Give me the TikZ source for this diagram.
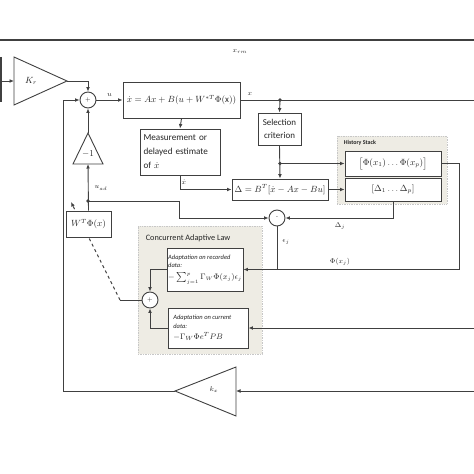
\documentclass[tikz,border=0pt]{standalone}
\usepackage{fontspec}
\setmainfont{Carlito}
\usetikzlibrary{arrows.meta}

\begin{document}
\begin{tikzpicture}[x=1bp, y=-1bp, line width=0.9bp,
  every node/.style={font=\fontsize{9}{13}\selectfont, text=black!85},
  arr/.style={-{Latex[length=4.5bp,width=3.8bp]}},
  block/.style={draw=LineGray, fill=white, inner sep=1bp},
  sumnode/.style={draw=LineGray, fill=white, circle, minimum size=16bp, inner sep=0pt, font=\fontsize{6}{6}\selectfont},
  panel/.style={draw=black!22, densely dotted, fill=PanelFill, line width=0.7bp},
  lbl/.style={font=\fontsize{7}{8}\selectfont},
  note/.style={font=\fontsize{6.5}{8.5}\selectfont\itshape}]

\colorlet{LineGray}{black!75}
\definecolor{PanelFill}{RGB}{238,236,228}

\useasboundingbox (0,0) rectangle (474,474);

% Panels
\node[panel, minimum width=110bp, minimum height=68bp] (hist) at (392,170) {};
\node[anchor=west, font=\fontsize{6}{7}\selectfont\bfseries] (histlbl) at (340,143) {History Stack};
\node[panel, minimum width=124bp, minimum height=128bp] (law) at (200,290) {};
\node[anchor=west, font=\fontsize{8.3}{9}\selectfont] (lawlbl) at (142,238) {Concurrent Adaptive Law};

% Top line
\coordinate (tl) at (0,40);
\coordinate (tr) at (474,40);
\draw[LineGray, line width=1.3bp] (tl) -- (tr);
\node[lbl] (xrm) at (240,52) {$x_{rm}$};

% Dashed adaptation arrow (behind W box)
\coordinate (dpt) at (120,300);
\coordinate (dtip) at (71,202);
\draw[LineGray, dashed, arr] (dpt) -- (dtip);

% Gains
\coordinate (lbar) at (2,81);
\draw[LineGray, line width=2.6bp] (1,57) -- (1,102);
\coordinate (kr-in) at (14,81);
\coordinate (kr-out) at (67,81);
\draw[LineGray, fill=white] (14,57) -- (14,105) -- (kr-out) -- cycle;
\node (kr) at (31,81) {$K_r$};

\coordinate (neg-top) at (88,133);
\coordinate (neg-bot) at (88,164);
\draw[LineGray, fill=white] (73,164) -- (103,164) -- (neg-top) -- cycle;
\node (neg) at (88,154) {$-1$};

\coordinate (kx-tip) at (175,391);
\coordinate (kx-in) at (236,391);
\draw[LineGray, fill=white] (236,367) -- (236,416) -- (kx-tip) -- cycle;
\node[lbl] (kx) at (214,390) {$k_x$};

% Blocks
\node[sumnode] (sum1) at (88,100) {$+$};
\node[block, minimum width=117bp, minimum height=36bp] (dyn) at (181.5,100) {$\dot{x}=Ax+B(u+W^{*T}\Phi(\mathrm{x}))$};
\node[block, minimum width=80bp, minimum height=46bp, text width=73bp, align=left,
  font=\fontsize{9.2}{14}\selectfont] (meas) at (180,152) {Measurement or\\delayed estimate\\of $\dot{x}$};
\node[block, minimum width=43bp, minimum height=32bp, align=center,
  font=\fontsize{9}{13.5}\selectfont] (sel) at (279.5,129) {Selection\\criterion};
\node[block, minimum width=96bp, minimum height=21bp] (delta) at (280,189.5) {$\Delta=B^T[\dot{x}-Ax-Bu]$};
\node[block, minimum width=96bp, minimum height=25bp] (phib) at (393,163.5) {$\bigl[\Phi(x_1)\ldots\Phi(x_p)\bigr]$};
\node[block, minimum width=96bp, minimum height=23bp] (dstk) at (393,189.5) {$[\Delta_1\ldots\Delta_p]$};
\node[sumnode] (minus) at (277,218) {-};
\node[block, minimum width=45bp, minimum height=26bp] (W) at (88.5,224) {$W^T\Phi(x)$};
\node[block, minimum width=76bp, minimum height=43bp, align=left, note] (rec) at (205,269.5)
  {Adaptation on recorded\\data:\\{\fontsize{7.8}{9}\selectfont\upshape\rule{0pt}{11bp}$-\sum_{j=1}^{p}\Gamma_W\Phi(x_j)\epsilon_j$}};
\node[block, minimum width=80bp, minimum height=40bp, align=left, note] (cur) at (208,328)
  {Adaptation on current\phantom{xxxx}\\data:\\{\fontsize{8.5}{9}\selectfont\upshape\rule{0pt}{10bp}$-\Gamma_W\Phi e^T PB$}};
\node[sumnode] (sum2) at (150,300) {$+$};

% Connectors
\coordinate (xr) at (474,100);
\coordinate (xdot) at (280,100);
\coordinate (seldot) at (280,163.5);
\coordinate (udot) at (88,201);
\coordinate (ubend) at (179,201);
\coordinate (fb) at (63,391);
\coordinate (cin) at (474,328);
\coordinate (kin) at (474,391);

\draw[LineGray, arr] (lbar) -- (kr-in);
\draw[LineGray, arr] (kr-out) -| (sum1.north);
\draw[LineGray, arr] (neg-top) -- (sum1.south);
\draw[LineGray, arr] (W.north) -- (neg-bot);
\draw[LineGray, arr] (kx-tip) -- (fb) |- (sum1.west);
\draw[LineGray, arr] (sum1.east) -- node[lbl, above] {$u$} (dyn.west);
\draw[LineGray] (dyn.east) -- (xr);
\node[lbl] (xlbl) at (250,94) {$x$};
\draw[LineGray, arr] (xdot) -- (sel.north);
\draw[LineGray, arr] (dyn.south) -- (meas.north);
\draw[LineGray, arr] (meas.south) |- (delta.west);
\node[lbl] (xdlbl) at (184,182) {$\dot{x}$};
\draw[LineGray, arr] (sel.south) -- (delta.north);
\draw[LineGray, arr] (seldot) -- (phib.west);
\draw[LineGray, arr] (delta.east) -- (dstk.west);
\draw[LineGray, arr] (dstk.south) |- (minus.east);
\node[lbl] (dj) at (340,226) {$\Delta_j$};
\draw[LineGray] (minus.south) -- (minus.south |- rec.east);
\node[lbl] (ej) at (286,242) {$\epsilon_j$};
\draw[LineGray, arr] (phib.east) -- ++(18,0) |- (rec.east);
\node[lbl] (phij) at (340,262) {$\Phi(x_j)$};
\draw[LineGray] (udot) -- (ubend);
\draw[LineGray, arr] (ubend) |- (minus.west);
\node[lbl] (uad) at (101,188) {$u_{ad}$};
\draw[LineGray, arr] (rec.west) -| (sum2.north);
\draw[LineGray, arr] (cur.west) -| (sum2.south);
\draw[LineGray] (sum2.west) -- (dpt);
\draw[LineGray, arr] (cin) -- (cur.east);
\draw[LineGray, arr] (kin) -- (kx-in);

% Dots
\foreach \p in {xdot, seldot, udot}
{
     \fill[LineGray] (\p) circle (1.8bp);
}

\end{tikzpicture}
\end{document}
